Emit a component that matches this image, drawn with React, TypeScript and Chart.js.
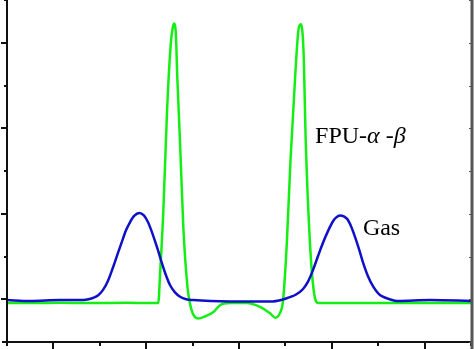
import React, { useEffect, useRef } from "react";
import { Chart, registerables } from "chart.js";

Chart.register(...registerables);

// FPU-α-β series (green)
const fpuX = [0, 0.5, 1.14, 1.79, 2.59, 3.08, 3.26, 3.3, 3.37, 3.45, 3.53, 3.57, 3.6, 3.64, 3.67, 3.73, 3.8, 3.89, 3.98, 4.12, 4.27, 4.45, 4.59, 4.81, 4.98, 5.17, 5.45, 5.67, 5.78, 5.88, 5.95, 6.03, 6.11, 6.21, 6.28, 6.33, 6.39, 6.44, 6.53, 6.62, 6.71, 7.18, 8.04, 8.9, 10];
const fpuY = [-0.09, -0.09, -0.08, -0.09, -0.08, -0.09, -0.09, 0.61, 2.08, 4.42, 5.98, 6.34, 6.45, 6.18, 5.2, 3.65, 1.69, 0.29, -0.26, -0.45, -0.4, -0.3, -0.14, -0.09, -0.09, -0.09, -0.18, -0.33, -0.43, -0.33, -0.02, 1.3, 3.25, 5.2, 6.29, 6.43, 5.82, 3.64, 1.3, 0.13, -0.09, -0.09, -0.09, -0.09, -0.09];

// Gas series (blue)
const gasX = [0, 0.5, 1.14, 1.57, 1.7, 1.85, 1.96, 2.07, 2.18, 2.28, 2.39, 2.5, 2.56, 2.65, 2.74, 2.85, 2.95, 3.04, 3.1, 3.19, 3.25, 3.34, 3.43, 3.51, 3.62, 3.73, 3.86, 4.01, 4.81, 5.73, 6.1, 6.23, 6.38, 6.49, 6.59, 6.7, 6.81, 6.92, 7.03, 7.09, 7.18, 7.33, 7.41, 7.5, 7.59, 7.67, 7.78, 7.89, 8.0, 8.1, 8.25, 8.41, 9.12, 10];
const gasY = [-0.02, -0.04, -0.02, -0.02, -0.01, 0.03, 0.09, 0.22, 0.44, 0.73, 1.08, 1.42, 1.6, 1.8, 1.95, 2.02, 1.96, 1.8, 1.64, 1.36, 1.16, 0.84, 0.55, 0.34, 0.16, 0.06, 0.0, -0.02, -0.05, -0.05, 0.05, 0.11, 0.24, 0.42, 0.67, 1.0, 1.32, 1.6, 1.83, 1.91, 1.96, 1.88, 1.72, 1.46, 1.16, 0.87, 0.54, 0.3, 0.14, 0.06, 0.0, -0.04, -0.02, -0.04];

// axis ticks
const xTicks = [0, 1, 2, 3, 4, 5, 6, 7, 8, 9, 10];
const yTicks = [-1, 0, 1, 2, 3, 4, 5, 6, 7];

// in-chart labels
const fpuLabelPos = [6.64, 3.65];
const gasLabelPos = [7.67, 1.5];

const GREEN = "#14ee14";
const BLUE = "#1010c8";
const FONT = "'Liberation Serif', 'Times New Roman', serif";

const overlay = {
  id: "overlay",
  afterDraw(chart: any) {
    const ctx = chart.ctx;
    const xs = chart.scales.x;
    const ys = chart.scales.y;
    const a = chart.chartArea;
    ctx.save();
    // left axis
    ctx.strokeStyle = "#111";
    ctx.lineWidth = 2;
    ctx.beginPath();
    ctx.moveTo(a.left, 0);
    ctx.lineTo(a.left, a.bottom);
    ctx.stroke();
    // bottom axis
    ctx.beginPath();
    ctx.moveTo(a.left - 5, a.bottom);
    ctx.lineTo(a.right + 1, a.bottom);
    ctx.stroke();
    // y ticks
    yTicks.forEach((v) => {
      const py = Math.round(ys.getPixelForValue(v));
      const major = v % 2 === 0;
      ctx.beginPath();
      ctx.moveTo(a.left, py);
      ctx.lineTo(a.left - (major ? 6 : 3), py);
      ctx.stroke();
    });
    // x ticks
    xTicks.forEach((v) => {
      const px = Math.round(xs.getPixelForValue(v));
      const major = v % 2 === 1;
      ctx.beginPath();
      ctx.moveTo(px, a.bottom);
      ctx.lineTo(px, a.bottom + (major ? 7 : 4));
      ctx.stroke();
    });
    // right axis
    ctx.strokeStyle = "#555";
    ctx.lineWidth = 3;
    ctx.beginPath();
    ctx.moveTo(a.right + 1, 0);
    ctx.lineTo(a.right + 1, a.bottom + 7);
    ctx.stroke();
    ctx.lineWidth = 1;
    yTicks.forEach((v) => {
      const py = Math.round(ys.getPixelForValue(v)) + 0.5;
      ctx.beginPath();
      ctx.moveTo(a.right, py);
      ctx.lineTo(a.right - 2, py);
      ctx.stroke();
    });

    // labels
    ctx.fillStyle = "#000";
    ctx.textBaseline = "alphabetic";
    ctx.textAlign = "left";
    const parts: [string, boolean][] = [
      ["FPU-", false],
      ["\u03B1", true],
      [" -", false],
      ["\u03B2", true],
    ];
    let lx = xs.getPixelForValue(fpuLabelPos[0]);
    const ly = ys.getPixelForValue(fpuLabelPos[1]);
    parts.forEach(([t, it]) => {
      ctx.font = (it ? "italic " : "") + "24px " + FONT;
      ctx.fillText(t, lx, ly);
      lx += ctx.measureText(t).width;
    });
    ctx.font = "24px " + FONT;
    ctx.fillText("Gas", xs.getPixelForValue(gasLabelPos[0]), ys.getPixelForValue(gasLabelPos[1]));
    ctx.restore();
  },
};

export default function App() {
  const ref = useRef<HTMLCanvasElement | null>(null);
  useEffect(() => {
    if (!ref.current) return;
    const chart = new Chart(ref.current, {
      type: "line",
      data: {
        datasets: [
          {
            label: "Gas",
            data: gasX.map((x, i) => ({ x, y: gasY[i] })),
            borderColor: BLUE,
            borderWidth: 2.5,
            pointRadius: 0,
            cubicInterpolationMode: "monotone",
            fill: false,
          },
          {
            label: "FPU-α-β",
            data: fpuX.map((x, i) => ({ x, y: fpuY[i] })),
            borderColor: GREEN,
            borderWidth: 2.5,
            pointRadius: 0,
            cubicInterpolationMode: "monotone",
            fill: false,
          },
        ],
      },
      options: {
        animation: false,
        responsive: false,
        maintainAspectRatio: false,
        layout: { padding: { left: 7, right: 3, top: 0, bottom: 7 } },
        plugins: { legend: { display: false }, tooltip: { enabled: false } },
        scales: {
          x: { type: "linear", min: 0, max: 10, display: false },
          y: { type: "linear", min: -1, max: 7, display: false },
        },
      },
      plugins: [overlay],
    });
    return () => chart.destroy();
  }, []);
  return (
    <div style={{ position: "fixed", left: 0, top: 0, width: 474, height: 349, background: "#fff" }}>
      <canvas ref={ref} width={474} height={349} style={{ width: 474, height: 349, display: "block" }} />
    </div>
  );
}
